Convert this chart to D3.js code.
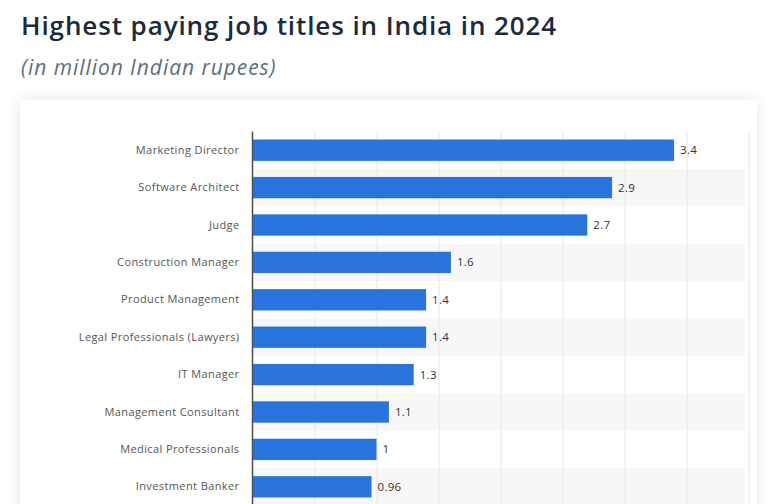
<!DOCTYPE html>
<html>
<head>
<meta charset="utf-8">
<script src="https://cdn.jsdelivr.net/npm/d3@7"></script>
<style>
  html, body { margin: 0; padding: 0; background: #ffffff; }
  svg { display: block; }
</style>
</head>
<body>
<svg id="chart" width="770" height="504"></svg>
<script>
const categories = [
  "Marketing Director",
  "Software Architect",
  "Judge",
  "Construction Manager",
  "Product Management",
  "Legal Professionals (Lawyers)",
  "IT Manager",
  "Management Consultant",
  "Medical Professionals",
  "Investment Banker"
];
const values = [3.4, 2.9, 2.7, 1.6, 1.4, 1.4, 1.3, 1.1, 1, 0.96];
const valueLabels = ["3.4", "2.9", "2.7", "1.6", "1.4", "1.4", "1.3", "1.1", "1", "0.96"];
const gridTicks = [0.5, 1, 1.5, 2, 2.5, 3, 3.5, 4];
const titleText = "Highest paying job titles in India in 2024";
const subtitleText = "(in million Indian rupees)";

const svg = d3.select("#chart");
const defs = svg.append("defs");
const f = defs.append("filter").attr("id", "shadow")
  .attr("x", "-10%").attr("y", "-10%").attr("width", "120%").attr("height", "130%");
f.append("feDropShadow").attr("dx", 0).attr("dy", 0).attr("stdDeviation", 7)
  .attr("flood-color", "#b9c6d8").attr("flood-opacity", 0.45);

// card
svg.append("rect").attr("x", 20).attr("y", 100).attr("width", 737).attr("height", 440)
  .attr("rx", 3).attr("fill", "#ffffff").attr("filter", "url(#shadow)");

// titles
svg.append("text").attr("x", 21).attr("y", 35)
  .attr("font-family", "'Open Sans', sans-serif").attr("font-weight", 600)
  .attr("font-size", 26).attr("letter-spacing", 0.9).attr("fill", "#1b2a3c").text(titleText);
svg.append("text").attr("x", 21).attr("y", 75)
  .attr("font-family", "'Open Sans', sans-serif").attr("font-style", "italic")
  .attr("font-size", 21).attr("letter-spacing", 0.95).attr("fill", "#5d6d7e").text(subtitleText);

const x = d3.scaleLinear().domain([0, 4]).range([252.5, 748.5]);
const y = d3.scaleBand().domain(categories).range([131.5, 505.5]).paddingInner(0.43).paddingOuter(0.215);
const yRow = d3.scaleBand().domain(categories).range([131.5, 505.5]).padding(0);

// alternating row shading
svg.append("g").selectAll("rect").data(categories.filter((d, i) => i % 2 === 1)).join("rect")
  .attr("x", x(0)).attr("width", 745 - x(0))
  .attr("y", d => yRow(d)).attr("height", yRow.bandwidth())
  .attr("fill", "#f7f7f7");

// grid lines
const grid = svg.append("g").attr("transform", "translate(0,504)")
  .call(d3.axisBottom(x).tickValues(gridTicks).tickSize(504 - 131.5).tickFormat(""));
grid.select(".domain").remove();
grid.selectAll(".tick line").attr("stroke", "#e6e6e6").attr("stroke-width", 1)
  .attr("transform", "scale(1,-1)");

// bars
svg.append("g").selectAll("rect").data(values).join("rect")
  .attr("x", x(0))
  .attr("y", (d, i) => y(categories[i]))
  .attr("width", d => x(d) - x(0))
  .attr("height", y.bandwidth())
  .attr("fill", "#2874dc");

// value labels
svg.append("g").selectAll("text").data(values).join("text")
  .attr("x", d => x(d) + 6)
  .attr("y", (d, i) => y(categories[i]) + y.bandwidth() / 2)
  .attr("dy", "0.35em")
  .attr("font-family", "'Open Sans', sans-serif").attr("font-size", 11.5)
  .attr("letter-spacing", 0.3)
  .attr("fill", "#333333")
  .text((d, i) => valueLabels[i]);

// y axis
const yAxis = svg.append("g").attr("transform", `translate(${x(0)},0)`)
  .call(d3.axisLeft(yRow).tickSize(0).tickPadding(13));
yAxis.select(".domain").attr("stroke", "#4d4d4d").attr("stroke-width", 1.5)
  .attr("d", `M0,131.5V504`);
yAxis.selectAll(".tick text")
  .attr("font-family", "'Open Sans', sans-serif").attr("font-size", 11)
  .attr("letter-spacing", 0.4)
  .attr("fill", "#555555");
</script>
</body>
</html>
